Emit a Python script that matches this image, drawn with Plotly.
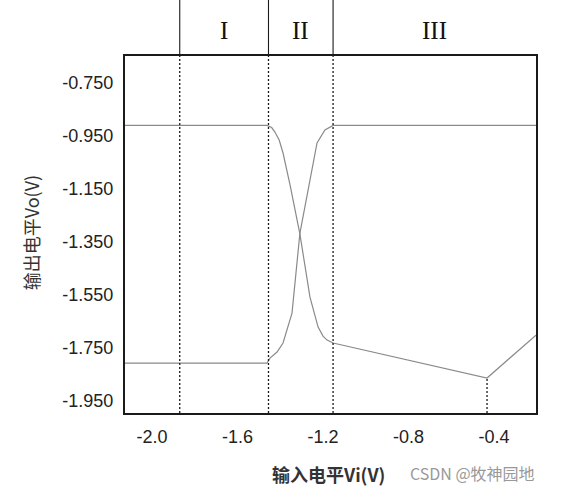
import plotly.graph_objects as go

# ---- data ----
fall_x = [-2.126, -1.462, -1.440, -1.425, -1.405, -1.387, -1.354, -1.308, -1.261, -1.223, -1.200, -1.181, -1.153, -0.433, -0.204]
fall_y = [-0.910, -0.910, -0.918, -0.935, -0.965, -1.014, -1.135, -1.320, -1.558, -1.671, -1.705, -1.720, -1.731, -1.863, -1.701]

rise_x = [-2.126, -1.462, -1.448, -1.415, -1.387, -1.345, -1.308, -1.294, -1.261, -1.228, -1.191, -1.153, -0.204]
rise_y = [-1.807, -1.807, -1.788, -1.765, -1.731, -1.618, -1.316, -1.256, -1.105, -0.976, -0.927, -0.910, -0.910]

region_bounds = [-1.870, -1.455, -1.153]
region_labels = ["I", "II", "III"]
kink_x = -0.433
kink_y = -1.863

x_ticks = [-2.0, -1.6, -1.2, -0.8, -0.4]
x_ticklabels = ["-2.0", "-1.6", "-1.2", "-0.8", "-0.4"]
y_ticks = [-0.75, -0.95, -1.15, -1.35, -1.55, -1.75, -1.95]
y_ticklabels = ["-0.750", "-0.950", "-1.150", "-1.350", "-1.550", "-1.750", "-1.950"]

x_range = [-2.126, -0.204]
y_range = [-1.995, -0.648]

line_color = "#8a8a8a"
dark = "#1a1a1a"

fig = go.Figure()
fig.add_trace(go.Scatter(x=fall_x, y=fall_y, mode="lines",
                         line=dict(color=line_color, width=1.2), hoverinfo="skip"))
fig.add_trace(go.Scatter(x=rise_x, y=rise_y, mode="lines",
                         line=dict(color=line_color, width=1.2), hoverinfo="skip"))

shapes = []
for b in region_bounds:
    shapes.append(dict(type="line", xref="x", yref="paper", x0=b, x1=b, y0=0, y1=1,
                       line=dict(color=dark, width=1.3, dash="2px,2px")))
    shapes.append(dict(type="line", xref="x", yref="paper", x0=b, x1=b, y0=1, y1=1.2,
                       line=dict(color=dark, width=1.1)))
shapes.append(dict(type="line", xref="x", yref="y", x0=kink_x, x1=kink_x, y0=y_range[0], y1=kink_y,
                   line=dict(color=dark, width=1.3, dash="2px,2px")))

bounds_ext = region_bounds + [x_range[1]]
annotations = []
for i, lab in enumerate(region_labels):
    annotations.append(dict(x=(bounds_ext[i] + bounds_ext[i + 1]) / 2, xref="x",
                            y=1.072, yref="paper", text=lab, showarrow=False,
                            font=dict(family="Liberation Serif, Times New Roman, serif", size=25, color="#111"),
                            xanchor="center", yanchor="middle"))
annotations.append(dict(text="<b>输入电平Vi(V)</b>", xref="paper", yref="paper", x=0.496, y=-0.171,
                        showarrow=False, xanchor="center", yanchor="middle",
                        font=dict(family="Noto Sans CJK SC, Liberation Sans, sans-serif", size=18, color="#333")))
annotations.append(dict(text="输出电平Vo(V)", xref="paper", yref="paper", x=-0.228, y=0.504,
                        showarrow=False, xanchor="center", yanchor="middle", textangle=-90,
                        font=dict(family="Noto Sans CJK SC, Liberation Sans, sans-serif", size=18, color="#333")))
annotations.append(dict(text="CSDN @牧神园地", xref="paper", yref="paper", x=1.003, y=-0.168,
                        showarrow=False, xanchor="right", yanchor="middle",
                        font=dict(family="Noto Sans CJK SC, Liberation Sans, sans-serif", size=16, color="#999")))

fig.update_layout(
    width=574, height=497,
    margin=dict(l=125, r=38, t=56, b=84),
    paper_bgcolor="white", plot_bgcolor="white",
    showlegend=False,
    shapes=shapes, annotations=annotations,
    font=dict(family="Liberation Sans, Arial, sans-serif", size=18, color="#222"),
)
fig.update_xaxes(range=x_range, tickvals=x_ticks, ticktext=x_ticklabels,
                 showgrid=False, zeroline=False, showline=True, linecolor=dark, linewidth=2,
                 mirror=True, ticks="", ticklabelstandoff=6)
fig.update_yaxes(range=y_range, tickvals=y_ticks, ticktext=y_ticklabels,
                 showgrid=False, zeroline=False, showline=True, linecolor=dark, linewidth=2,
                 mirror=True, ticks="", ticklabelstandoff=6)

fig.write_html("out.html", config={"displayModeBar": False},
               post_script="document.body.style.margin='0';")
